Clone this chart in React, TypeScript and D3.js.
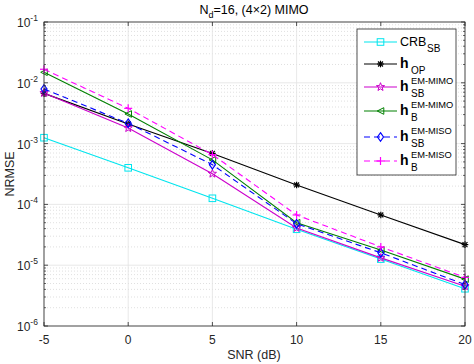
import React from "react";
import * as d3 from "d3";

const snr = [-5, 0, 5, 10, 15, 20];
const crbSB = [1.25e-3, 4.0e-4, 1.26e-4, 3.9e-5, 1.26e-5, 4.1e-6];
const hOP = [6.7e-3, 2.1e-3, 6.9e-4, 2.09e-4, 6.7e-5, 2.18e-5];
const hSBmimo = [6.8e-3, 1.8e-3, 3.2e-4, 4.1e-5, 1.32e-5, 4.5e-6];
const hBmimo = [1.49e-2, 3.07e-3, 5.4e-4, 5.0e-5, 1.78e-5, 5.9e-6];
const hSBmiso = [7.9e-3, 2.16e-3, 4.5e-4, 4.8e-5, 1.6e-5, 4.8e-6];
const hBmiso = [1.67e-2, 3.8e-3, 6.6e-4, 6.7e-5, 2.0e-5, 6.3e-6];
const xTicks = [-5, 0, 5, 10, 15, 20];
const yExps = [-6, -5, -4, -3, -2, -1];

type Series = { name: string; sub: string; sup?: string; bold: boolean; data: number[]; color: string; dash?: string; marker: string };

const series: Series[] = [
  { name: "CRB", sub: "SB", bold: false, data: crbSB, color: "#00e5ee", marker: "square" },
  { name: "h", sub: "OP", bold: true, data: hOP, color: "#000000", marker: "star" },
  { name: "h", sub: "SB", sup: "EM-MIMO", bold: true, data: hSBmimo, color: "#cc00cc", marker: "pentagram" },
  { name: "h", sub: "B", sup: "EM-MIMO", bold: true, data: hBmimo, color: "#008000", marker: "triangle" },
  { name: "h", sub: "SB", sup: "EM-MISO", bold: true, data: hSBmiso, color: "#0000ff", dash: "6,4", marker: "diamond" },
  { name: "h", sub: "B", sup: "EM-MISO", bold: true, data: hBmiso, color: "#ff00ff", dash: "6,4", marker: "plus" },
];

const L = 44, R = 465, T = 22, B = 326;
const x = d3.scaleLinear().domain([-5, 20]).range([L, R]);
const y = d3.scaleLog().domain([1e-6, 1e-1]).range([B, T]);

function Marker({ type, cx, cy, color }: { type: string; cx: number; cy: number; color: string }) {
  const s = 3.3;
  switch (type) {
    case "square":
      return <rect x={cx - s} y={cy - s} width={2 * s} height={2 * s} fill="none" stroke={color} strokeWidth={1} />;
    case "star":
      return (
        <g stroke={color} strokeWidth={1.2}>
          <line x1={cx - s} y1={cy} x2={cx + s} y2={cy} />
          <line x1={cx} y1={cy - s} x2={cx} y2={cy + s} />
          <line x1={cx - s * 0.75} y1={cy - s * 0.75} x2={cx + s * 0.75} y2={cy + s * 0.75} />
          <line x1={cx - s * 0.75} y1={cy + s * 0.75} x2={cx + s * 0.75} y2={cy - s * 0.75} />
        </g>
      );
    case "pentagram": {
      const pts: string[] = [];
      for (let i = 0; i < 10; i++) {
        const r = i % 2 === 0 ? 4.3 : 1.8;
        const a = -Math.PI / 2 + (i * Math.PI) / 5;
        pts.push(`${cx + r * Math.cos(a)},${cy + r * Math.sin(a)}`);
      }
      return <polygon points={pts.join(" ")} fill="none" stroke={color} strokeWidth={1} />;
    }
    case "triangle":
      return <polygon points={`${cx - s},${cy} ${cx + s},${cy - s} ${cx + s},${cy + s}`} fill="none" stroke={color} strokeWidth={1} />;
    case "diamond":
      return <polygon points={`${cx},${cy - 4.3} ${cx + 3},${cy} ${cx},${cy + 4.3} ${cx - 3},${cy}`} fill="none" stroke={color} strokeWidth={1.2} />;
    case "plus":
      return (
        <g stroke={color} strokeWidth={1.2}>
          <line x1={cx - 4} y1={cy} x2={cx + 4} y2={cy} />
          <line x1={cx} y1={cy - 4} x2={cx} y2={cy + 4} />
        </g>
      );
  }
  return null;
}

export default function App() {
  const line = d3.line<number>().x((_, i) => x(snr[i])).y((d) => y(d));
  const minor: number[] = [];
  for (let e = -6; e < -1; e++) for (let k = 2; k <= 9; k++) minor.push(k * Math.pow(10, e));
  const font = "Helvetica, Arial, 'Liberation Sans', sans-serif";
  const legX = 357, legY = 29, legW = 99, legH = 146;
  const rowY = [42, 64, 87, 111, 137, 161];
  return (
    <svg width={474} height={364} style={{ position: "absolute", left: 0, top: 0, fontFamily: font }}>
      <rect x={0} y={0} width={474} height={364} fill="#fff" />
      <rect x={L} y={T} width={R - L} height={B - T} fill="#fff" />
      {minor.map((v, i) => (
        <line key={"mg" + i} x1={L} x2={R} y1={y(v)} y2={y(v)} stroke="#d8d8d8" strokeWidth={0.8} strokeDasharray="1,2" />
      ))}
      {yExps.map((e) => (
        <line key={"yg" + e} x1={L} x2={R} y1={y(Math.pow(10, e))} y2={y(Math.pow(10, e))} stroke="#e2e2e2" strokeWidth={0.8} />
      ))}
      {xTicks.map((t) => (
        <line key={"xg" + t} x1={x(t)} x2={x(t)} y1={T} y2={B} stroke="#e2e2e2" strokeWidth={0.8} />
      ))}
      {series.map((s, si) => (
        <g key={"s" + si}>
          <path d={line(s.data) || ""} fill="none" stroke={s.color} strokeWidth={1.1} strokeDasharray={s.dash} />
          {s.data.map((v, i) => (
            <Marker key={i} type={s.marker} cx={x(snr[i])} cy={y(v)} color={s.color} />
          ))}
        </g>
      ))}
      <rect x={L} y={T} width={R - L} height={B - T} fill="none" stroke="#262626" strokeWidth={0.8} />
      {xTicks.map((t) => (
        <g key={"xt" + t}>
          <line x1={x(t)} x2={x(t)} y1={B} y2={B - 4} stroke="#262626" strokeWidth={0.8} />
          <line x1={x(t)} x2={x(t)} y1={T} y2={T + 4} stroke="#262626" strokeWidth={0.8} />
          <text x={x(t)} y={344} textAnchor="middle" fontSize={12} fill="#262626">{t}</text>
        </g>
      ))}
      {yExps.map((e) => (
        <g key={"yt" + e}>
          <line x1={L} x2={L + 4} y1={y(Math.pow(10, e))} y2={y(Math.pow(10, e))} stroke="#262626" strokeWidth={0.8} />
          <line x1={R} x2={R - 4} y1={y(Math.pow(10, e))} y2={y(Math.pow(10, e))} stroke="#262626" strokeWidth={0.8} />
          <text x={17} y={y(Math.pow(10, e)) + 5} fontSize={12} fill="#262626">
            10<tspan dy={-6} fontSize={8.5}>{e}</tspan>
          </text>
        </g>
      ))}
      {minor.map((v, i) => (
        <g key={"mt" + i}>
          <line x1={L} x2={L + 2} y1={y(v)} y2={y(v)} stroke="#262626" strokeWidth={0.7} />
          <line x1={R} x2={R - 2} y1={y(v)} y2={y(v)} stroke="#262626" strokeWidth={0.7} />
        </g>
      ))}
      <text x={254} y={359} textAnchor="middle" fontSize={12.5} fill="#262626">SNR (dB)</text>
      <text transform={`translate(14,${(T + B) / 2}) rotate(-90)`} textAnchor="middle" fontSize={12.5} fill="#262626">NRMSE</text>
      <text x={254} y={14} textAnchor="middle" fontSize={12.5} fill="#000">
        N<tspan dy={4} fontSize={9}>d</tspan><tspan dy={-4}>=16, (4×2) MIMO</tspan>
      </text>
      <rect x={legX} y={legY} width={legW} height={legH} fill="#fff" stroke="#262626" strokeWidth={0.8} />
      {series.map((s, i) => {
        const cy = rowY[i];
        return (
          <g key={"l" + i}>
            <line x1={364} x2={397} y1={cy} y2={cy} stroke={s.color} strokeWidth={1.1} strokeDasharray={s.dash} />
            <Marker type={s.marker} cx={380.5} cy={cy} color={s.color} />
            <text x={400} y={cy + 4} fontSize={s.bold ? 14 : 12.5} fontWeight={s.bold ? "bold" : "normal"} fill="#000">
              {s.name}
            </text>
            {s.sup && (
              <text x={411} y={cy - 3} fontSize={9.3} fill="#000">{s.sup}</text>
            )}
            <text x={s.bold ? 411 : 427} y={cy + 10} fontSize={10} fill="#000">{s.sub}</text>
          </g>
        );
      })}
    </svg>
  );
}
